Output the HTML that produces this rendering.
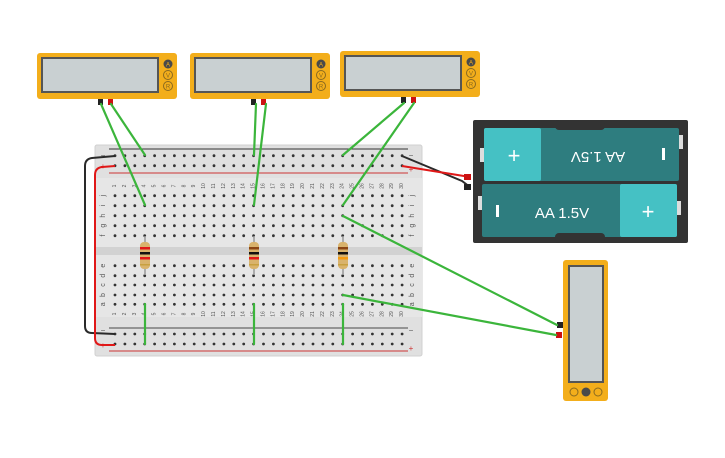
<!DOCTYPE html>
<html><head><style>
body{margin:0;background:#fff;width:725px;height:453px;overflow:hidden;font-family:"Liberation Sans",sans-serif}
</style></head><body>
<svg width="725" height="453" viewBox="0 0 725 453" xmlns="http://www.w3.org/2000/svg">
<defs>
<g id="meter">
<rect x="0" y="0" width="140" height="46" rx="3" fill="#f3ae1b"/>
<rect x="5" y="5" width="116" height="34" fill="#c9d0d2" stroke="#555" stroke-width="2"/>
<circle cx="131" cy="11" r="4.5" fill="#4a4a4a"/><text x="131" y="13.5" font-size="6" fill="#f3ae1b" text-anchor="middle">A</text>
<circle cx="131" cy="22" r="4.5" fill="none" stroke="#8a6a20"/><text x="131" y="24.5" font-size="6" fill="#8a6a20" text-anchor="middle">V</text>
<circle cx="131" cy="33" r="4.5" fill="none" stroke="#8a6a20"/><text x="131" y="35.5" font-size="6" fill="#8a6a20" text-anchor="middle">R</text>
<rect x="61" y="46" width="5" height="6" fill="#222"/><rect x="71" y="46" width="5" height="6" fill="#c11"/>
</g>
</defs>
<rect x="95" y="145" width="327" height="211" rx="2" fill="#e0e0e0" stroke="#d0d0d0"/>
<rect x="95" y="178" width="327" height="139" fill="#e6e6e6"/>
<rect x="95" y="247" width="327" height="8" fill="#d2d2d2"/>
<line x1="109" y1="149" x2="408" y2="149" stroke="#333" stroke-width="1"/>
<line x1="109" y1="173" x2="408" y2="173" stroke="#c33" stroke-width="1"/>
<line x1="109" y1="328" x2="408" y2="328" stroke="#666" stroke-width="1.2"/>
<line x1="109" y1="351" x2="408" y2="351" stroke="#c33" stroke-width="1"/>
<g id="holes"></g>
<g font-size="5" fill="#555" text-anchor="middle" id="labels"></g>
<g id="res"></g>
<g stroke="#2a2a2a" stroke-width="2" fill="none">
<path d="M115 156 L92 158 Q85 159 85 166 L85 326 Q85 333 92 333 L115 334"/>
<path d="M402 156 L462 181 L470 187"/>
</g>
<g stroke="#e01818" stroke-width="2" fill="none">
<path d="M115 166 L102 167 Q95 168 95 175 L95 338 Q95 345 102 345 L115 345"/>
<path d="M402 166 L470 177"/>
</g>
<rect x="464" y="174" width="7" height="6" fill="#c11"/>
<rect x="464" y="184" width="7" height="6" fill="#222"/>
<rect x="473" y="120" width="215" height="123" rx="2" fill="#333"/>
<rect x="480" y="148" width="4" height="14" fill="#ddd"/><rect x="679" y="135" width="4" height="14" fill="#ddd"/>
<rect x="478" y="196" width="4" height="14" fill="#ddd"/><rect x="677" y="201" width="4" height="14" fill="#ddd"/>
<rect x="484" y="128" width="195" height="53" rx="2" fill="#2e7d7f"/>
<rect x="484" y="128" width="57" height="53" rx="2" fill="#45c1c4"/>
<rect x="482" y="184" width="195" height="53" rx="2" fill="#2e7d7f"/>
<rect x="620" y="184" width="57" height="53" rx="2" fill="#45c1c4"/>
<rect x="555" y="120" width="50" height="10" rx="4" fill="#333"/>
<rect x="555" y="233" width="50" height="10" rx="4" fill="#333"/>
<text x="514" y="163" font-size="22" fill="#fff" text-anchor="middle">+</text>
<text x="648" y="219" font-size="22" fill="#fff" text-anchor="middle">+</text>
<rect x="662" y="148" width="3" height="12" fill="#fff"/>
<rect x="496" y="205" width="3" height="12" fill="#fff"/>
<text x="598" y="162" font-size="15" fill="#fff" text-anchor="middle" transform="rotate(180 598 157)">AA 1.5V</text>
<text x="562" y="218" font-size="15" fill="#fff" text-anchor="middle">AA 1.5V</text>
<use href="#meter" x="37" y="53"/>
<use href="#meter" x="190" y="53"/>
<use href="#meter" x="340" y="51"/>
<rect x="563" y="260" width="45" height="141" rx="3" fill="#f3ae1b"/>
<rect x="569" y="266" width="34" height="116" fill="#c9d0d2" stroke="#555" stroke-width="2"/>
<circle cx="574" cy="392" r="4" fill="none" stroke="#8a6a20"/>
<circle cx="586" cy="392" r="4.5" fill="#4a4a4a"/>
<circle cx="598" cy="392" r="4" fill="none" stroke="#8a6a20"/>
<rect x="557" y="322" width="6" height="6" fill="#222"/><rect x="556" y="332" width="6" height="6" fill="#c11"/>
<g stroke="#3bb53b" stroke-width="2.2" fill="none" stroke-linecap="round">
<line x1="101" y1="104" x2="145" y2="205"/><line x1="111" y1="104" x2="145" y2="155"/>
<line x1="256" y1="104" x2="254" y2="155"/><line x1="266" y1="104" x2="254" y2="205"/>
<line x1="404" y1="103" x2="343" y2="155"/><line x1="414" y1="103" x2="343" y2="205"/>
<line x1="343" y1="216" x2="557" y2="325"/><line x1="343" y1="295" x2="556" y2="335"/>
<line x1="145" y1="304" x2="145" y2="344"/><line x1="254" y1="304" x2="254" y2="344"/><line x1="343" y1="304" x2="343" y2="344"/>
</g>
</svg>
<script>
(function(){
var ns="http://www.w3.org/2000/svg",h=document.getElementById("holes"),L=document.getElementById("labels"),R=document.getElementById("res");
function el(t,a,p){var e=document.createElementNS(ns,t);for(var k in a)e.setAttribute(k,a[k]);p.appendChild(e);return e;}
var rows=[195.7,205.7,215.7,225.7,235.7,265.7,275.7,285,295,304.3];
for(var c=0;c<30;c++){var x=115+c*9.9;
 rows.forEach(function(y){el("circle",{cx:x,cy:y,r:1.4,fill:"#333"},h);});
 [155.7,165.7,334,344].forEach(function(y){el("circle",{cx:x,cy:y,r:1.4,fill:"#333"},h);});
 var t=el("text",{x:x,y:187,transform:"rotate(-90 "+x+" 186)"},L);t.textContent=c+1;
 t=el("text",{x:x,y:315,transform:"rotate(-90 "+x+" 314)"},L);t.textContent=c+1;
}
var lt="jihgfedcba";
[103,412].forEach(function(x){for(var i=0;i<10;i++){var y=rows[i];var t=el("text",{x:x,y:y+2,"font-size":7,transform:"rotate(-90 "+x+" "+y+")"},L);t.textContent=lt[i];}});
[["−",103,158],["+",103,169],["−",411,158],["+",411,172],["−",103,333],["+",103,348],["−",411,333],["+",411,351]].forEach(function(a){var t=el("text",{x:a[1],y:a[2],"font-size":8,fill:a[0]=="+"?"#c33":"#555"},L);t.textContent=a[0];});
[[145,["#e01818","#111","#e01818"]],[254,["#8b4513","#111","#e01818"]],[343,["#8b4513","#111","#f39a10"]]].forEach(function(r){var x=r[0];
 el("line",{x1:x,y1:236,x2:x,y2:275,stroke:"#999","stroke-width":1.5},R);
 el("rect",{x:x-5,y:242,width:10,height:27,rx:4,fill:"#d9b36c"},R);
 r[1].forEach(function(col,i){el("rect",{x:x-5,y:247+i*5,width:10,height:2.5,fill:col},R);});
 el("rect",{x:x-5,y:264,width:10,height:1.5,fill:"#c8a040"},R);
});
})();
</script>
</body></html>
